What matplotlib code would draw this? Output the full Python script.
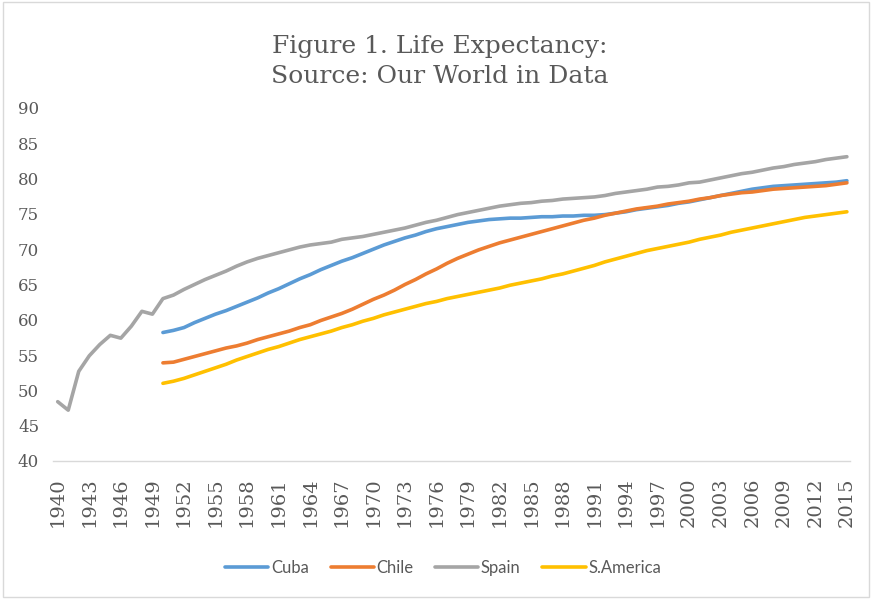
import numpy as np
import matplotlib.pyplot as plt
from matplotlib.patches import Rectangle

# 年份
years = list(range(1940, 2016))

# 西班牙 1940-2015
spain = [48.4, 47.2, 52.7, 54.9, 56.5, 57.8, 57.4, 59.1, 61.2, 60.8,
         63.0, 63.5, 64.3, 65.0, 65.7, 66.3, 66.9, 67.6, 68.2, 68.7,
         69.1, 69.5, 69.9, 70.3, 70.6, 70.8, 71.0, 71.4, 71.6, 71.8,
         72.1, 72.4, 72.7, 73.0, 73.4, 73.8, 74.1, 74.5, 74.9, 75.2,
         75.5, 75.8, 76.1, 76.3, 76.5, 76.6, 76.8, 76.9, 77.1, 77.2,
         77.3, 77.4, 77.6, 77.9, 78.1, 78.3, 78.5, 78.8, 78.9, 79.1,
         79.4, 79.5, 79.8, 80.1, 80.4, 80.7, 80.9, 81.2, 81.5, 81.7,
         82.0, 82.2, 82.4, 82.7, 82.9, 83.1]

# 其他國家 1950-2015
cuba = [58.2, 58.5, 58.9, 59.6, 60.2, 60.8, 61.3, 61.9, 62.5, 63.1,
        63.8, 64.4, 65.1, 65.8, 66.4, 67.1, 67.7, 68.3, 68.8, 69.4,
        70.0, 70.6, 71.1, 71.6, 72.0, 72.5, 72.9, 73.2, 73.5, 73.8,
        74.0, 74.2, 74.3, 74.4, 74.4, 74.5, 74.6, 74.6, 74.7, 74.7,
        74.8, 74.8, 74.9, 75.1, 75.3, 75.6, 75.8, 76.0, 76.2, 76.5,
        76.7, 77.0, 77.3, 77.6, 77.9, 78.2, 78.5, 78.7, 78.9, 79.0,
        79.1, 79.2, 79.3, 79.4, 79.5, 79.7]
chile = [53.9, 54.0, 54.4, 54.8, 55.2, 55.6, 56.0, 56.3, 56.7, 57.2,
         57.6, 58.0, 58.4, 58.9, 59.3, 59.9, 60.4, 60.9, 61.5, 62.2,
         62.9, 63.5, 64.2, 65.0, 65.7, 66.5, 67.2, 68.0, 68.7, 69.3,
         69.9, 70.4, 70.9, 71.3, 71.7, 72.1, 72.5, 72.9, 73.3, 73.7,
         74.1, 74.4, 74.8, 75.1, 75.4, 75.7, 75.9, 76.1, 76.4, 76.6,
         76.8, 77.1, 77.3, 77.6, 77.8, 78.0, 78.1, 78.3, 78.5, 78.6,
         78.7, 78.8, 78.9, 79.0, 79.2, 79.4]
s_america = [51.0, 51.3, 51.7, 52.2, 52.7, 53.2, 53.7, 54.3, 54.8, 55.3,
             55.8, 56.2, 56.7, 57.2, 57.6, 58.0, 58.4, 58.9, 59.3, 59.8,
             60.2, 60.7, 61.1, 61.5, 61.9, 62.3, 62.6, 63.0, 63.3, 63.6,
             63.9, 64.2, 64.5, 64.9, 65.2, 65.5, 65.8, 66.2, 66.5, 66.9,
             67.3, 67.7, 68.2, 68.6, 69.0, 69.4, 69.8, 70.1, 70.4, 70.7,
             71.0, 71.4, 71.7, 72.0, 72.4, 72.7, 73.0, 73.3, 73.6, 73.9,
             74.2, 74.5, 74.7, 74.9, 75.1, 75.3]
years_50 = years[10:]

fig = plt.figure(figsize=(8.74, 5.99), dpi=100)
ax = fig.add_axes([0.0606, 0.2304, 0.912, 0.5893])

lw = 2.6
ax.plot(years_50, cuba, color='#5B9BD5', lw=lw, label='Cuba', solid_capstyle='round')
ax.plot(years_50, chile, color='#ED7D31', lw=lw, label='Chile', solid_capstyle='round')
ax.plot(years, spain, color='#A5A5A5', lw=lw, label='Spain', solid_capstyle='round')
ax.plot(years_50, s_america, color='#FFC000', lw=lw, label='S.America', solid_capstyle='round')

ax.set_xlim(1939.55, 2015.3)
ax.set_ylim(40, 90)
ax.set_yticks(range(40, 91, 5))
ax.set_xticks(years[::3])
ax.set_xticklabels([str(y) for y in years[::3]], rotation=90,
                   family='DejaVu Serif', fontsize=14, color='#595959')
ax.set_yticklabels([str(v) for v in range(40, 91, 5)],
                   family='DejaVu Serif', fontsize=12, color='#595959')
ax.tick_params(axis='both', length=0)
ax.tick_params(axis='x', pad=12)
ax.tick_params(axis='y', pad=10)

for s in ['top', 'right', 'left']:
    ax.spines[s].set_visible(False)
ax.spines['bottom'].set_color('#D9D9D9')
ax.spines['bottom'].set_linewidth(1)

fig.text(0.503, 0.897, 'Figure 1. Life Expectancy:\nSource: Our World in Data',
         ha='center', va='center', family='DejaVu Serif', fontsize=18,
         color='#595959', linespacing=1.4)

leg = fig.legend(loc='center', bbox_to_anchor=(0.507, 0.052), ncol=4, frameon=False,
                 prop={'family': 'Lato', 'size': 12}, handlelength=2.6,
                 handletextpad=0.15, columnspacing=1.3)
for t in leg.get_texts():
    t.set_color('#595959')

fig.patches.append(Rectangle((0.003, 0.004), 0.991, 0.992, transform=fig.transFigure,
                             fill=False, edgecolor='#D9D9D9', lw=1))

fig.savefig('out.png', dpi=100)
